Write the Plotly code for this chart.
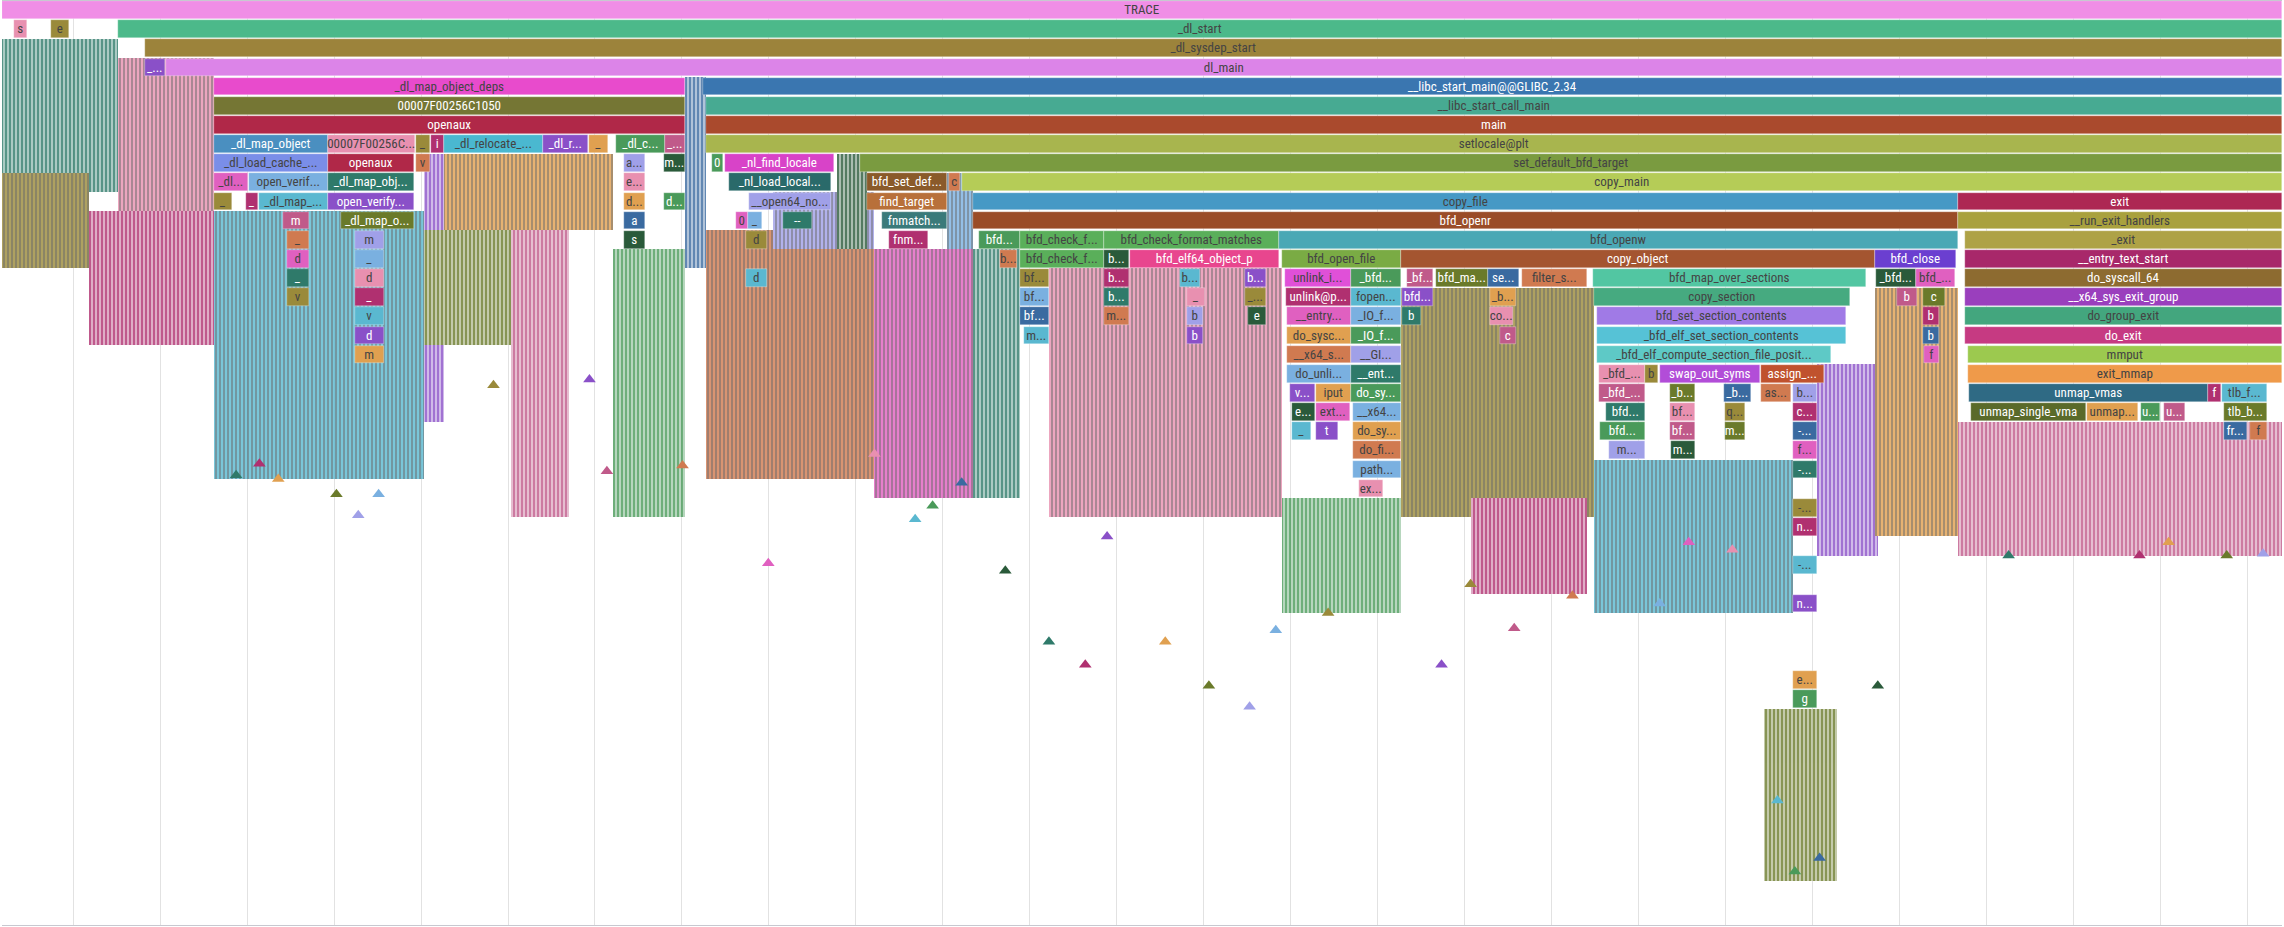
import plotly.graph_objects as go

# frames: (label, start, end, depth) in trace time units
TOP_FRAMES = [
    ("TRACE", 0, 1568, 0), ("s", 8, 17, 1), ("e", 34, 46, 1), ("_dl_start", 80, 1568, 1),
    ("_dl_sysdep_start", 98, 1568, 2), ("_...", 98, 112, 3), ("dl_main", 113, 1568, 3),
    ("__libc_start_main@@GLIBC_2.34", 482, 1568, 4), ("__libc_start_call_main", 484, 1568, 5),
    ("main", 484, 1568, 6), ("setlocale@plt", 484, 1568, 7),
    ("set_default_bfd_target", 590, 1568, 8), ("copy_main", 660, 1568, 9),
]
LOADER_FRAMES = [
    ("_dl_map_object_deps", 146, 470, 4), ("00007F00256C1050", 146, 470, 5), ("openaux", 146, 470, 6),
    ("_dl_map_object", 146, 224, 7), ("00007F00256C...", 224, 284, 7), ("_", 285, 294, 7), ("i", 295, 304, 7),
    ("_dl_relocate_...", 304, 372, 7), ("_dl_r...", 372, 403, 7), ("_", 404, 417, 7),
    ("_dl_c...", 422, 456, 7), ("_...", 456, 470, 7),
    ("_dl_load_cache_...", 146, 224, 8), ("openaux", 224, 283, 8), ("v", 285, 294, 8),
    ("a...", 428, 442, 8), ("m...", 455, 470, 8),
    ("_dl...", 146, 169, 9), ("open_verif...", 170, 224, 9), ("_dl_map_obj...", 224, 283, 9),
    ("e...", 428, 442, 9), ("_", 146, 158, 10), ("_", 168, 176, 10), ("_dl_map_...", 177, 224, 10),
    ("open_verify...", 224, 283, 10), ("d...", 428, 442, 10), ("d...", 455, 470, 10),
    ("m", 193, 211, 11), ("_dl_map_o...", 233, 283, 11), ("a", 428, 442, 11),
    ("_", 196, 211, 12), ("m", 243, 263, 12), ("s", 428, 442, 12),
    ("d", 196, 211, 13), ("_", 243, 263, 13), ("_", 196, 211, 14), ("d", 243, 263, 14),
    ("v", 196, 211, 15), ("_", 243, 263, 15), ("v", 243, 263, 16), ("d", 243, 263, 17), ("m", 243, 263, 18),
]
LOCALE_FRAMES = [
    ("0", 488, 496, 8), ("_nl_find_locale", 497, 572, 8), ("_nl_load_local...", 500, 570, 9),
    ("bfd_set_def...", 595, 650, 9), ("c", 651, 659, 9), ("__open64_no...", 514, 570, 10),
    ("find_target", 595, 650, 10), ("0", 505, 513, 11), ("_", 513, 523, 11), ("--", 537, 557, 11),
    ("fnmatch...", 605, 650, 11), ("d", 512, 526, 12), ("fnm...", 610, 637, 12), ("d", 512, 526, 14),
]
BFD_FRAMES = [
    ("copy_file", 668, 1345, 10), ("bfd_openr", 668, 1345, 11),
    ("bfd...", 672, 700, 12), ("bfd_check_f...", 700, 758, 12), ("bfd_check_format_matches", 758, 878, 12),
    ("bfd_openw", 878, 1345, 12),
    ("b...", 686, 698, 13), ("bfd_check_f...", 700, 758, 13), ("b...", 758, 775, 13),
    ("bfd_elf64_object_p", 776, 878, 13), ("bfd_open_file", 880, 962, 13), ("copy_object", 962, 1288, 13),
    ("bfd_close", 1288, 1344, 13),
    ("bf...", 700, 720, 14), ("b...", 758, 775, 14), ("b...", 810, 824, 14), ("b...", 855, 869, 14),
    ("unlink_i...", 882, 928, 14), ("_bfd...", 928, 962, 14), ("_bf...", 966, 984, 14),
    ("bfd_ma...", 986, 1022, 14), ("se...", 1022, 1043, 14), ("filter_s...", 1045, 1090, 14),
    ("bfd_map_over_sections", 1094, 1282, 14), ("_bfd...", 1289, 1316, 14), ("bfd_...", 1316, 1343, 14),
    ("bf...", 700, 720, 15), ("b...", 758, 775, 15), ("_", 815, 827, 15), ("_...", 855, 869, 15),
    ("unlink@p...", 883, 928, 15), ("fopen...", 928, 962, 15), ("bfd...", 963, 984, 15),
    ("_b...", 1023, 1041, 15), ("copy_section", 1095, 1271, 15), ("b", 1303, 1317, 15), ("c", 1321, 1336, 15),
    ("bf...", 700, 720, 16), ("m...", 758, 775, 16), ("b", 815, 826, 16), ("e", 857, 869, 16),
    ("__entry...", 884, 928, 16), ("_IO_f...", 928, 962, 16), ("b", 963, 976, 16), ("co...", 1023, 1039, 16),
    ("bfd_set_section_contents", 1097, 1268, 16), ("b", 1321, 1332, 16),
    ("m...", 703, 720, 17), ("b", 815, 826, 17), ("do_sysc...", 884, 928, 17), ("_IO_f...", 928, 962, 17),
    ("c", 1030, 1041, 17), ("_bfd_elf_set_section_contents", 1097, 1268, 17), ("b", 1321, 1332, 17),
    ("__x64_s...", 884, 928, 18), ("__GI...", 928, 962, 18),
    ("_bfd_elf_compute_section_file_posit...", 1097, 1258, 18), ("f", 1322, 1332, 18),
    ("do_unli...", 884, 928, 19), ("__ent...", 928, 962, 19), ("_bfd_...", 1098, 1130, 19), ("b", 1130, 1139, 19),
    ("swap_out_syms", 1140, 1209, 19), ("assign_...", 1210, 1253, 19),
    ("v...", 886, 903, 20), ("iput", 904, 928, 20), ("do_sy...", 928, 962, 20), ("_bfd_...", 1098, 1130, 20),
    ("_b...", 1147, 1164, 20), ("_b...", 1184, 1203, 20), ("as...", 1210, 1230, 20), ("b...", 1232, 1248, 20),
    ("e...", 887, 903, 21), ("ext...", 904, 927, 21), ("__x64...", 929, 962, 21), ("bfd...", 1103, 1130, 21),
    ("bf...", 1147, 1164, 21), ("q...", 1185, 1199, 21), ("c...", 1232, 1248, 21),
    ("_", 887, 900, 22), ("t", 904, 919, 22), ("do_sy...", 929, 962, 22), ("bfd...", 1099, 1130, 22),
    ("bf...", 1147, 1164, 22), ("m...", 1185, 1199, 22), ("-...", 1232, 1248, 22),
    ("do_fi...", 929, 962, 23), ("m...", 1105, 1130, 23), ("m...", 1148, 1164, 23), ("f...", 1232, 1248, 23),
    ("path...", 929, 962, 24), ("-...", 1232, 1248, 24), ("ex...", 933, 950, 25),
    ("-...", 1232, 1248, 26), ("n...", 1232, 1248, 27), ("-...", 1232, 1248, 29), ("n...", 1232, 1248, 31),
    ("e...", 1232, 1248, 35), ("g", 1232, 1248, 36),
]
EXIT_FRAMES = [
    ("exit", 1345, 1568, 10), ("__run_exit_handlers", 1345, 1568, 11), ("_exit", 1350, 1568, 12),
    ("__entry_text_start", 1350, 1568, 13), ("do_syscall_64", 1350, 1568, 14),
    ("__x64_sys_exit_group", 1350, 1568, 15), ("do_group_exit", 1350, 1568, 16), ("do_exit", 1350, 1568, 17),
    ("mmput", 1352, 1568, 18), ("exit_mmap", 1352, 1568, 19), ("unmap_vmas", 1353, 1517, 20),
    ("f", 1517, 1526, 20), ("tlb_f...", 1527, 1558, 20), ("unmap_single_vma", 1354, 1433, 21),
    ("unmap...", 1434, 1469, 21), ("u...", 1471, 1484, 21), ("u...", 1487, 1501, 21),
    ("tlb_b...", 1528, 1558, 21), ("fr...", 1528, 1544, 22), ("f", 1546, 1558, 22),
]
# dense areas of tiny frames: (start, end, first depth, last depth)
DENSE_AREAS = [
    (0, 80, 2, 9), (80, 146, 3, 11), (0, 60, 9, 13), (60, 146, 11, 17), (146, 290, 11, 24),
    (290, 304, 8, 21), (304, 420, 8, 11), (420, 470, 13, 26), (350, 390, 12, 26), (290, 350, 12, 17),
    (470, 484, 4, 13), (484, 600, 12, 24), (530, 600, 10, 12), (574, 595, 8, 12), (600, 668, 13, 25),
    (650, 668, 9, 12), (668, 700, 13, 25), (720, 880, 14, 26), (962, 1095, 15, 26), (1010, 1090, 26, 30),
    (1095, 1232, 24, 31), (1248, 1290, 19, 28), (1288, 1345, 15, 27), (880, 962, 26, 31),
    (1345, 1568, 22, 28), (1212, 1262, 37, 45),
]
# instant markers (time, depth)
MARK_T = [161, 177, 190, 230, 245, 259, 338, 404, 416, 468, 527, 600, 628, 640, 660, 690, 720, 745,
          800, 830, 858, 876, 912, 990, 1040, 1080, 1160, 1190, 1221, 1233, 1250, 1290, 1380, 1470,
          1490, 1530, 1555, 1140, 1010, 760]
MARK_D = [24.3, 23.7, 24.5, 25.3, 26.4, 25.3, 19.6, 19.3, 24.1, 23.8, 28.9, 23.2, 26.6, 25.9, 24.7,
          29.3, 33.0, 34.2, 33.0, 35.3, 36.4, 32.4, 31.5, 34.2, 32.3, 30.6, 27.8, 28.2, 41.3, 45.0,
          44.3, 35.3, 28.5, 28.5, 27.8, 28.5, 28.4, 31.0, 30.0, 27.5]

COLORS = {
    "TRACE": "#f08ee6", "_dl_start": "#4cb98a", "_dl_sysdep_start": "#9c833b", "dl_main": "#dc84e8",
    "_dl_map_object_deps": "#e84bcc", "00007F00256C1050": "#757634", "openaux": "#b02848",
    "__libc_start_main@@GLIBC_2.34": "#3a76b0", "__libc_start_call_main": "#47aa92", "main": "#aa4a2d",
    "setlocale@plt": "#a8b54e", "set_default_bfd_target": "#7a9b40", "copy_main": "#b5cc57",
    "copy_file": "#4699c5", "exit": "#ad2853", "bfd_openr": "#9a4c28", "__run_exit_handlers": "#a9a13e",
    "bfd_openw": "#4aa8b5", "_exit": "#aea246", "copy_object": "#a45530", "__entry_text_start": "#a8286a",
    "bfd_close": "#6b3fd0", "bfd_open_file": "#7aab44", "bfd_elf64_object_p": "#e8468e",
    "bfd_check_format_matches": "#5aaf5a", "bfd_check_f...": "#5aaf5a", "bfd_map_over_sections": "#52c6a2",
    "do_syscall_64": "#8d6b30", "copy_section": "#46aa80", "__x64_sys_exit_group": "#9a3fbd",
    "bfd_set_section_contents": "#a07ae6", "do_group_exit": "#43a67e",
    "_bfd_elf_set_section_contents": "#56c2d6", "do_exit": "#c63a82",
    "_bfd_elf_compute_section_file_posit...": "#5ec9c6", "mmput": "#9cc94f", "swap_out_syms": "#b24dd8",
    "exit_mmap": "#ef9a4a", "assign_...": "#c0522e", "unmap_vmas": "#2f6a84", "unmap_single_vma": "#5a6a2a",
    "_dl_map_object": "#4a8fc0", "_dl_load_cache_...": "#7a8ee8", "_nl_find_locale": "#d843c8",
    "_nl_load_local...": "#2a6a6a", "bfd_set_def...": "#8a5a2a", "find_target": "#b8703a",
    "fnmatch...": "#3a7a7a", "_dl_relocate_...": "#4ab8d0", "unlink_i...": "#e050d8",
}
PALETTE = ["#2f7a6a", "#e890b0", "#9a8a3a", "#b03070", "#5ab8d0", "#8a50c8", "#e0a050", "#4a9a5a",
           "#c05a8a", "#6a7a2a", "#3a6aa0", "#d07a50", "#a0a0e8", "#2a5a3a", "#e060c0", "#7ab0e0"]

frames = TOP_FRAMES + LOADER_FRAMES + LOCALE_FRAMES + BFD_FRAMES + EXIT_FRAMES

fig = go.Figure()

# dense regions drawn as striped blocks
fig.add_trace(go.Bar(
    orientation="h",
    base=[a[0] for a in DENSE_AREAS],
    x=[a[1] - a[0] for a in DENSE_AREAS],
    y=[(a[2] + a[3]) / 2 for a in DENSE_AREAS],
    width=[a[3] - a[2] + 1 for a in DENSE_AREAS],
    marker=dict(
        color=[PALETTE[i % len(PALETTE)] for i in range(len(DENSE_AREAS))],
        line=dict(width=0),
        pattern=dict(
            shape="|", size=4, solidity=0.5, fillmode="overlay",
            fgcolor=[PALETTE[(i * 5 + 3) % len(PALETTE)] for i in range(len(DENSE_AREAS))],
        ),
    ),
    opacity=0.8, hoverinfo="skip", showlegend=False,
))

fig.add_trace(go.Bar(
    orientation="h",
    base=[f[1] for f in frames],
    x=[f[2] - f[1] for f in frames],
    y=[f[3] for f in frames],
    width=0.93,
    text=[f[0] for f in frames],
    textposition="inside", insidetextanchor="middle", textangle=0, constraintext="none",
    textfont=dict(family="Roboto Condensed, Roboto, sans-serif", size=13),
    marker=dict(
        color=[COLORS.get(f[0], PALETTE[i % len(PALETTE)]) for i, f in enumerate(frames)],
        line=dict(width=0.5, color="rgba(255,255,255,0.6)"),
    ),
    hovertext=[f[0] for f in frames], hoverinfo="text", showlegend=False,
))

fig.add_trace(go.Scatter(
    x=MARK_T, y=MARK_D, mode="markers",
    marker=dict(symbol="triangle-up", size=11,
                color=[PALETTE[(i * 3) % len(PALETTE)] for i in range(len(MARK_T))]),
    hoverinfo="skip", showlegend=False,
))

fig.update_layout(
    width=2284, height=927, margin=dict(l=2, r=2, t=1, b=2),
    plot_bgcolor="white", paper_bgcolor="white", barmode="overlay", bargap=0,
    xaxis=dict(range=[0, 1568], showticklabels=False, tick0=49, dtick=59.8,
               showgrid=True, gridcolor="#e2e2e2", zeroline=False,
               showline=True, linecolor="#c8c8d0", mirror=True),
    yaxis=dict(range=[47.8, -0.47], showticklabels=False, showgrid=False, zeroline=False),
)

fig.write_html("out.html", config={"displayModeBar": False},
               post_script="document.body.style.margin='0';")
